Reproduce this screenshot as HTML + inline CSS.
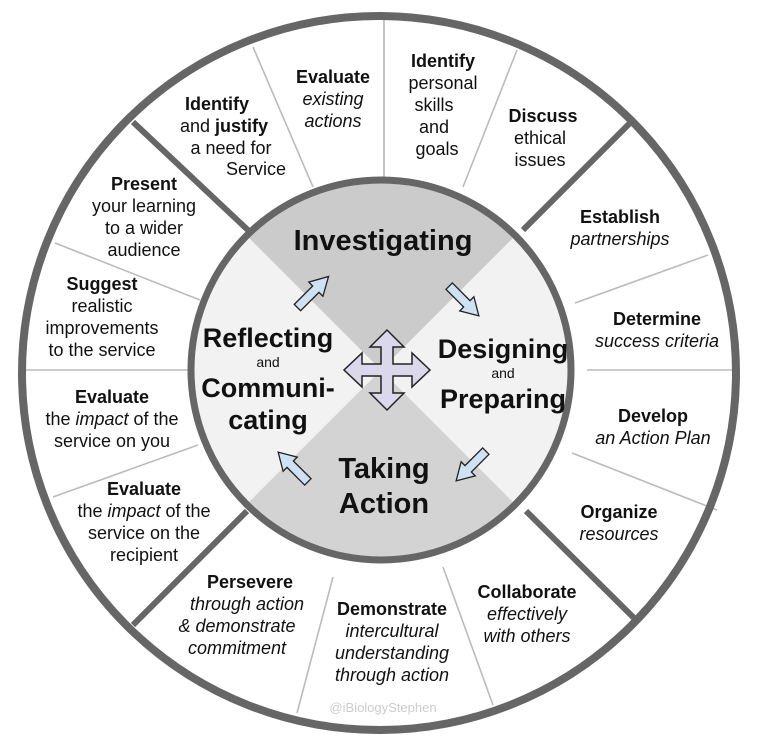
<!DOCTYPE html>
<html><head><meta charset="utf-8"><style>
html,body{margin:0;padding:0;background:#fff;}
svg{display:block;}
text{font-family:"Liberation Sans",Arial,sans-serif;fill:#111;}
.o{font-size:18px;text-anchor:middle;}
.b{font-weight:bold;}
.i{font-style:italic;}
.big{font-size:29px;font-weight:bold;text-anchor:middle;}
.mid{font-size:27px;font-weight:bold;text-anchor:middle;}
.and{font-size:14px;text-anchor:middle;}
</style></head><body>
<svg width="759" height="742" viewBox="0 0 759 742" xmlns="http://www.w3.org/2000/svg">
<defs><clipPath id="ic"><circle cx="381" cy="370" r="190"/></clipPath></defs>
<rect width="759" height="742" fill="#fff"/>
<g stroke="#bbb" stroke-width="1.6">
<line x1="253" y1="47" x2="313" y2="187"/>
<line x1="384" y1="14" x2="384" y2="182"/>
<line x1="517" y1="50" x2="463" y2="187"/>
<line x1="708" y1="255" x2="575" y2="303"/>
<line x1="587" y1="370" x2="735" y2="370"/>
<line x1="572" y1="453" x2="717" y2="510"/>
<line x1="443" y1="567" x2="493" y2="705"/>
<line x1="333" y1="577" x2="297" y2="713"/>
<line x1="53" y1="497" x2="198" y2="445"/>
<line x1="24" y1="370" x2="192" y2="370"/>
<line x1="55" y1="243" x2="200" y2="300"/>
</g>
<g stroke="#666" stroke-width="6">
<line x1="133" y1="122" x2="250" y2="232"/>
<line x1="630" y1="123" x2="523" y2="230"/>
<line x1="526" y1="511" x2="635" y2="619"/>
<line x1="247" y1="511" x2="133" y2="625"/>
</g>
<circle cx="379" cy="373" r="357" fill="none" stroke="#666" stroke-width="8"/>
<g clip-path="url(#ic)">
<rect x="180" y="170" width="402" height="402" fill="#f2f2f2"/>
<polygon points="381,370 171,160 591,160" fill="#cbcbcb"/>
<polygon points="381,370 171,580 591,580" fill="#d3d3d3"/>
</g>
<circle cx="381" cy="370" r="190" fill="none" stroke="#666" stroke-width="7"/>
<g fill="#cfe2f3" stroke="#222" stroke-width="1.3">
<polygon transform="translate(313,292) rotate(-45)" points="-22,-4.5 4,-4.5 4,-10 22,0 4,10 4,4.5 -22,4.5"/>
<polygon transform="translate(464,301) rotate(45)" points="-21,-4.5 4,-4.5 4,-10 21,0 4,10 4,4.5 -21,4.5"/>
<polygon transform="translate(471,466) rotate(135)" points="-21,-4.5 4,-4.5 4,-10 21,0 4,10 4,4.5 -21,4.5"/>
<polygon transform="translate(293,467) rotate(225)" points="-21,-4.5 4,-4.5 4,-10 21,0 4,10 4,4.5 -21,4.5"/>
</g>
<polygon transform="translate(387,370)" fill="#dcd8ec" stroke="#222" stroke-width="1.5"
points="43,0 25,-17 25,-6 6,-6 6,-23 17,-23 0,-40 -17,-23 -6,-23 -6,-6 -25,-6 -25,-17 -43,0 -25,17 -25,6 -6,6 -6,23 -17,23 0,40 17,23 6,23 6,6 25,6 25,17"/>
<text class="big" x="383" y="250">Investigating</text>
<text class="mid" x="268" y="347">Reflecting</text>
<text class="and" x="268" y="367">and</text>
<text class="mid" x="268" y="397">Communi-</text>
<text class="mid" x="268" y="429">cating</text>
<text class="mid" x="503" y="358">Designing</text>
<text class="and" x="503" y="378">and</text>
<text class="mid" x="503" y="408">Preparing</text>
<text class="big" x="384" y="478">Taking</text>
<text class="big" x="384" y="513">Action</text>
<g class="o">
<text class="o b" x="217" y="110">Identify</text>
<text class="o" x="224" y="132">and <tspan class="b">justify</tspan></text>
<text class="o" x="231" y="154">a need for</text>
<text class="o" x="256" y="175">Service</text>

<text class="o b" x="333" y="83">Evaluate</text>
<text class="o i" x="333" y="105">existing</text>
<text class="o i" x="333" y="127">actions</text>

<text class="o b" x="443" y="67">Identify</text>
<text class="o" x="443" y="89">personal</text>
<text class="o" x="434" y="111">skills</text>
<text class="o" x="434" y="133">and</text>
<text class="o" x="437" y="155">goals</text>

<text class="o b" x="543" y="122">Discuss</text>
<text class="o" x="540" y="144">ethical</text>
<text class="o" x="540" y="166">issues</text>

<text class="o b" x="620" y="223">Establish</text>
<text class="o i" x="620" y="245">partnerships</text>

<text class="o b" x="657" y="325">Determine</text>
<text class="o i" x="657" y="347">success criteria</text>

<text class="o b" x="653" y="422">Develop</text>
<text class="o i" x="653" y="444">an Action Plan</text>

<text class="o b" x="619" y="518">Organize</text>
<text class="o i" x="619" y="540">resources</text>

<text class="o b" x="527" y="598">Collaborate</text>
<text class="o i" x="527" y="620">effectively</text>
<text class="o i" x="527" y="642">with others</text>

<text class="o b" x="392" y="615">Demonstrate</text>
<text class="o i" x="392" y="637">intercultural</text>
<text class="o i" x="392" y="659">understanding</text>
<text class="o i" x="392" y="681">through action</text>

<text x="383" y="712" style="font-size:13px;text-anchor:middle;fill:#ccc">@iBiologyStephen</text>

<text class="o b" x="250" y="588">Persevere</text>
<text class="o i" x="247" y="610">through action</text>
<text class="o i" x="237" y="632">&amp; demonstrate</text>
<text class="o i" x="237" y="654">commitment</text>

<text class="o b" x="144" y="495">Evaluate</text>
<text class="o" x="144" y="517">the <tspan class="i">impact</tspan> of the</text>
<text class="o" x="144" y="539">service on the</text>
<text class="o" x="144" y="561">recipient</text>

<text class="o b" x="112" y="403">Evaluate</text>
<text class="o" x="112" y="425">the <tspan class="i">impact</tspan> of the</text>
<text class="o" x="112" y="447">service on you</text>

<text class="o b" x="102" y="290">Suggest</text>
<text class="o" x="102" y="312">realistic</text>
<text class="o" x="102" y="334">improvements</text>
<text class="o" x="102" y="356">to the service</text>

<text class="o b" x="144" y="190">Present</text>
<text class="o" x="144" y="212">your learning</text>
<text class="o" x="144" y="234">to a wider</text>
<text class="o" x="144" y="256">audience</text>
</g>
</svg>
</body></html>
